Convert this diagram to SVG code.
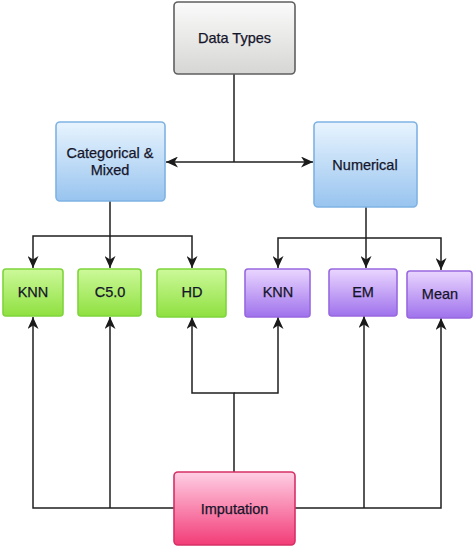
<svg xmlns="http://www.w3.org/2000/svg" width="474" height="548" viewBox="0 0 474 548">
<defs>
<linearGradient id="gGray" x1="0" y1="0" x2="0" y2="1"><stop offset="0" stop-color="#fbfbfb"/><stop offset="1" stop-color="#d6d6d4"/></linearGradient>
<linearGradient id="gBlue" x1="0" y1="0" x2="0" y2="1"><stop offset="0" stop-color="#e8f4fe"/><stop offset="1" stop-color="#98c4ef"/></linearGradient>
<linearGradient id="gGreen" x1="0" y1="0" x2="0" y2="1"><stop offset="0" stop-color="#ccf99a"/><stop offset="1" stop-color="#8fe040"/></linearGradient>
<linearGradient id="gPurple" x1="0" y1="0" x2="0" y2="1"><stop offset="0" stop-color="#ead6ff"/><stop offset="1" stop-color="#9f72ec"/></linearGradient>
<linearGradient id="gPink" x1="0" y1="0" x2="0" y2="1"><stop offset="0" stop-color="#ffcfe4"/><stop offset="1" stop-color="#f23c78"/></linearGradient>
<marker id="arr" markerUnits="userSpaceOnUse" markerWidth="13" markerHeight="11" refX="12" refY="5.5" orient="auto"><path d="M0,0 L12,5.5 L0,11 L3.5,5.5 Z" fill="#1a1a1a"/></marker>
</defs>
<style>
.ln{fill:none;stroke:#1f1f1f;stroke-width:1.5}
.t{font-family:"Liberation Sans",Arial,sans-serif;font-size:14.5px;fill:#15152a;stroke:#15152a;stroke-width:0.25;text-anchor:middle}
.gray{fill:url(#gGray);stroke:#5f5f5f;stroke-width:1.6}
.blue{fill:url(#gBlue);stroke:#7fb2e4;stroke-width:1.6}
.green{fill:url(#gGreen);stroke:#7fd53c;stroke-width:1.6}
.purple{fill:url(#gPurple);stroke:#9868e0;stroke-width:1.6}
.pink{fill:url(#gPink);stroke:#d63066;stroke-width:1.6}
</style>
<rect width="474" height="548" fill="#ffffff"/>
<g id="connectors">
<path class="ln" d="M234,74 V162"/>
<path class="ln" d="M234,162 H166" marker-end="url(#arr)"/>
<path class="ln" d="M234,162 H313" marker-end="url(#arr)"/>
<path class="ln" d="M110,201 V236 H33 V268" marker-end="url(#arr)"/>
<path class="ln" d="M110,236 V268" marker-end="url(#arr)"/>
<path class="ln" d="M110,236 H192 V268" marker-end="url(#arr)"/>
<path class="ln" d="M366,207 V268" marker-end="url(#arr)"/>
<path class="ln" d="M366,238 H278 V268" marker-end="url(#arr)"/>
<path class="ln" d="M366,238 H441 V270" marker-end="url(#arr)"/>
<path class="ln" d="M174,508 H33 V317" marker-end="url(#arr)"/>
<path class="ln" d="M110,508 V317" marker-end="url(#arr)"/>
<path class="ln" d="M295,508 H441 V318" marker-end="url(#arr)"/>
<path class="ln" d="M364,508 V316" marker-end="url(#arr)"/>
<path class="ln" d="M234,472 V393 H192 V317" marker-end="url(#arr)"/>
<path class="ln" d="M234,393 H278 V317" marker-end="url(#arr)"/>
</g>
<g id="data-types"><rect class="gray" x="174" y="2" width="121" height="72" rx="4"/><text class="t" x="234.5" y="43">Data Types</text></g>
<g id="categorical"><rect class="blue" x="56" y="122" width="109" height="79" rx="4"/><text class="t" x="110" y="158">Categorical &amp;</text><text class="t" x="110" y="175">Mixed</text></g>
<g id="numerical"><rect class="blue" x="314" y="122" width="103" height="85" rx="4"/><text class="t" x="365" y="170">Numerical</text></g>
<g id="knn-cat"><rect class="green" x="3" y="269" width="60" height="47" rx="3"/><text class="t" x="33" y="297">KNN</text></g>
<g id="c50"><rect class="green" x="78" y="269" width="63" height="47" rx="3"/><text class="t" x="110" y="297">C5.0</text></g>
<g id="hd"><rect class="green" x="157" y="269" width="69" height="48" rx="3"/><text class="t" x="192" y="297">HD</text></g>
<g id="knn-num"><rect class="purple" x="245" y="269" width="65" height="48" rx="3"/><text class="t" x="278" y="297">KNN</text></g>
<g id="em"><rect class="purple" x="329" y="269" width="68" height="47" rx="3"/><text class="t" x="363" y="297">EM</text></g>
<g id="mean"><rect class="purple" x="407" y="271" width="65" height="47" rx="3"/><text class="t" x="440" y="299">Mean</text></g>
<g id="imputation"><rect class="pink" x="174" y="472" width="121" height="73" rx="4"/><text class="t" x="234.5" y="514">Imputation</text></g>
</svg>
